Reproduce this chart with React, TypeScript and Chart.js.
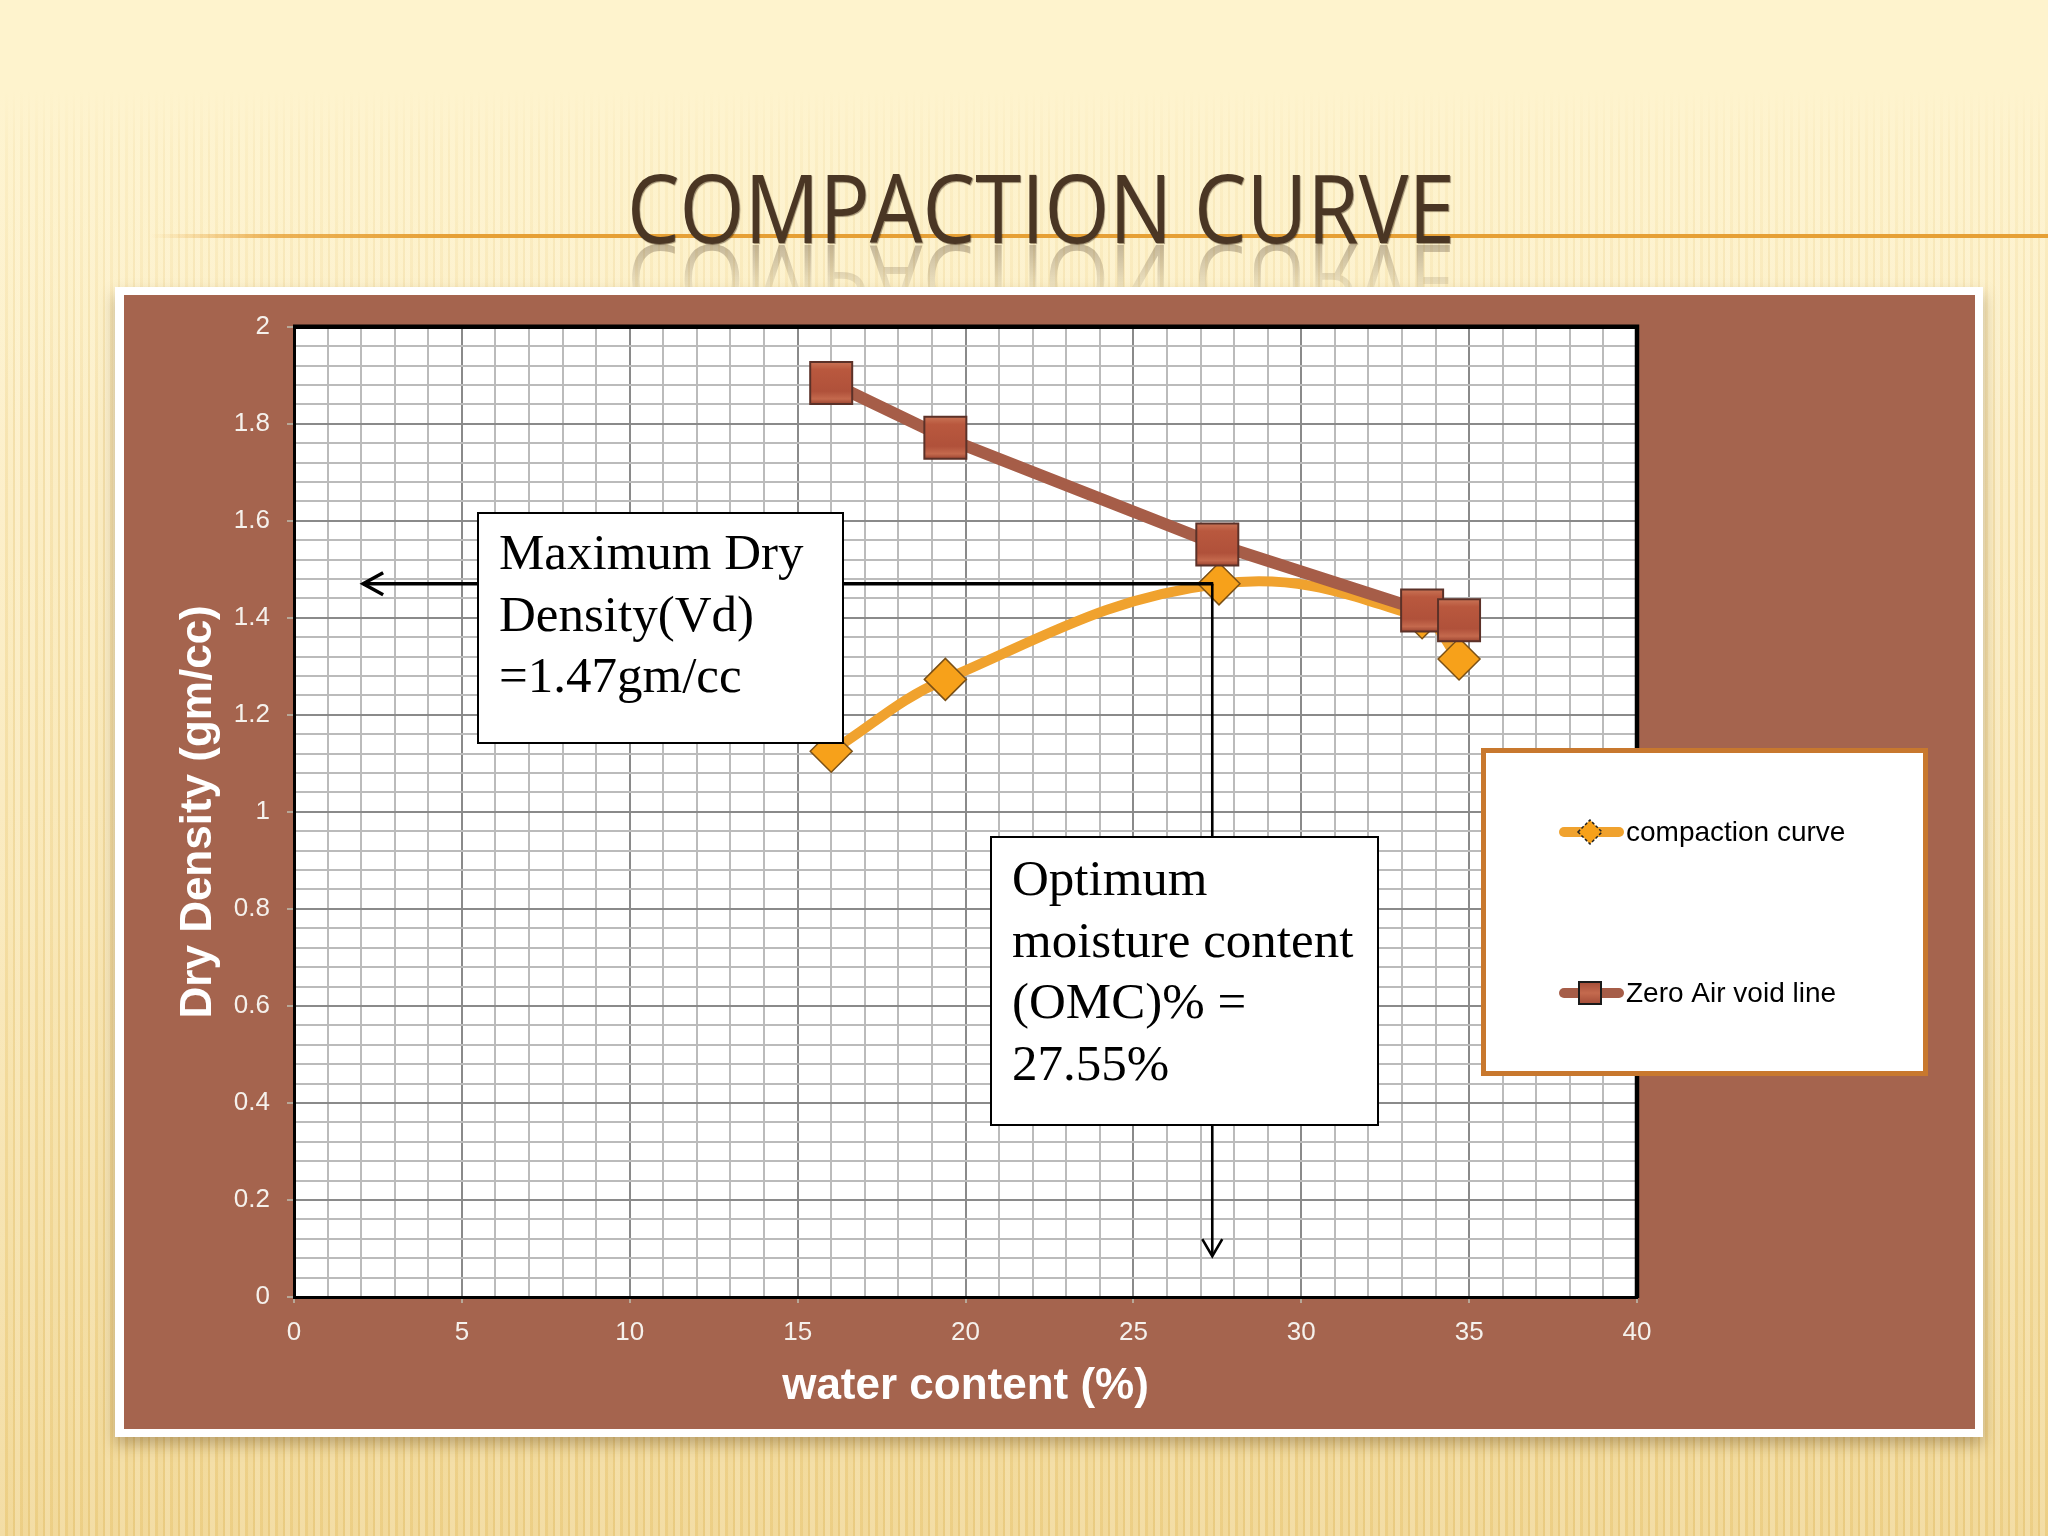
import React, { useEffect, useLayoutEffect, useRef } from 'react';
import { Chart, registerables } from 'chart.js';

Chart.register(...registerables);

// ---- data ----
const seriesLabels = ['compaction curve', 'Zero Air void line'];
const compactionWater = [16, 19.4, 27.55, 33.6, 34.7];
const compactionDensity = [1.125, 1.273, 1.47, 1.4, 1.315];
const zavWater = [16, 19.4, 27.5, 33.6, 34.7];
const zavDensity = [1.884, 1.771, 1.551, 1.415, 1.395];

const xMin = 0;
const xMax = 40;
const xMinorStep = 1;
const xMajorStep = 5;
const yMin = 0;
const yMax = 2;
const yMinorStep = 0.04;
const yMajorStep = 0.2;

const mddValue = 1.47; // maximum dry density marker line
const omcLineX = 27.35; // optimum moisture content marker line
const arrowLeftX = 2;
const arrowBottomY = 0.08;

const titleText = 'COMPACTION CURVE';
const xTitle = 'water content (%)';
const yTitle = 'Dry Density (gm/cc)';
const mddLines = ['Maximum Dry', 'Density(Vd)', '=1.47gm/cc'];
const omcLines = ['Optimum', 'moisture content', '(OMC)% =', '27.55%'];

// ---- styles ----
const ORANGE_LINE = '#F0A22E';
const ORANGE_FILL = '#F7A11A';
const BROWN_LINE = '#A65D48';
const PANEL = '#A5644E';

const isMultiple = (v: number, step: number) => {
  const r = v / step;
  return Math.abs(r - Math.round(r)) < 1e-6;
};

function squareFill(ctx: any) {
  const chart = ctx.chart;
  try {
    if (ctx.type !== 'data' || !chart.scales || !chart.scales.y || !ctx.parsed) return '#B5563D';
    const y = chart.scales.y.getPixelForValue(ctx.parsed.y);
    if (!isFinite(y)) return '#B5563D';
    const g = chart.ctx.createLinearGradient(0, y - 21, 0, y + 21);
    g.addColorStop(0, '#C97355');
    g.addColorStop(0.18, '#B9583E');
    g.addColorStop(0.7, '#B0513A');
    g.addColorStop(0.88, '#C4694D');
    g.addColorStop(1, '#9C4531');
    return g;
  } catch (e) {
    return '#B5563D';
  }
}

const plotBg = {
  id: 'plotBg',
  beforeDraw(chart: any) {
    const { ctx, chartArea: a } = chart;
    ctx.save();
    ctx.fillStyle = '#FFFFFF';
    ctx.fillRect(a.left, a.top, a.right - a.left, a.bottom - a.top);
    ctx.restore();
  },
};

const arrows = {
  id: 'arrows',
  afterDatasetsDraw(chart: any) {
    const { ctx } = chart;
    const xs = chart.scales.x;
    const ys = chart.scales.y;
    const px = xs.getPixelForValue(omcLineX);
    const py = ys.getPixelForValue(mddValue);
    const lx = xs.getPixelForValue(arrowLeftX);
    const by = ys.getPixelForValue(arrowBottomY);
    ctx.save();
    ctx.strokeStyle = '#000';
    ctx.lineCap = 'butt';
    ctx.lineJoin = 'miter';
    ctx.lineWidth = 3.5;
    ctx.beginPath();
    ctx.moveTo(px + 1, py);
    ctx.lineTo(lx + 2, py);
    ctx.stroke();
    ctx.beginPath();
    ctx.moveTo(lx + 22, py - 11);
    ctx.lineTo(lx + 2, py);
    ctx.lineTo(lx + 22, py + 11);
    ctx.stroke();
    ctx.lineWidth = 2.6;
    ctx.beginPath();
    ctx.moveTo(px, py);
    ctx.lineTo(px, by - 2);
    ctx.stroke();
    ctx.beginPath();
    ctx.moveTo(px - 10, by - 19);
    ctx.lineTo(px, by - 2);
    ctx.lineTo(px + 10, by - 19);
    ctx.stroke();
    ctx.restore();
  },
};

const frameAndLegend = {
  id: 'frameAndLegend',
  afterDraw(chart: any) {
    const { ctx, chartArea: a } = chart;
    ctx.save();
    // plot border top/right
    ctx.strokeStyle = '#000';
    ctx.lineWidth = 4.5;
    ctx.beginPath();
    ctx.moveTo(a.left - 1, a.top);
    ctx.lineTo(a.right, a.top);
    ctx.lineTo(a.right, a.bottom + 1);
    ctx.stroke();

    // legend box
    const bx = 1357, byy = 453, bw = 447, bh = 328;
    ctx.fillStyle = '#FFFFFF';
    ctx.fillRect(bx, byy, bw, bh);
    ctx.strokeStyle = '#C8782E';
    ctx.lineWidth = 5;
    ctx.strokeRect(bx + 2.5, byy + 2.5, bw - 5, bh - 5);

    const rows = [537, 698];
    chart.data.datasets.forEach((ds: any, i: number) => {
      const y = rows[i];
      ctx.strokeStyle = ds.borderColor;
      ctx.lineWidth = 10;
      ctx.lineCap = 'round';
      ctx.beginPath();
      ctx.moveTo(1440, y);
      ctx.lineTo(1495, y);
      ctx.stroke();
      ctx.lineCap = 'butt';
      const cx = 1466;
      if (ds.pointStyle === 'rectRot') {
        ctx.beginPath();
        ctx.moveTo(cx - 12, y);
        ctx.lineTo(cx, y - 12);
        ctx.lineTo(cx + 12, y);
        ctx.lineTo(cx, y + 12);
        ctx.closePath();
        ctx.fillStyle = ORANGE_FILL;
        ctx.fill();
        ctx.strokeStyle = '#222';
        ctx.lineWidth = 1.5;
        ctx.setLineDash([3, 2]);
        ctx.stroke();
        ctx.setLineDash([]);
      } else {
        const g = ctx.createLinearGradient(0, y - 11, 0, y + 11);
        g.addColorStop(0, '#A44D38');
        g.addColorStop(0.5, '#C46A4E');
        g.addColorStop(1, '#A44D38');
        ctx.fillStyle = g;
        ctx.fillRect(cx - 11, y - 11, 22, 22);
        ctx.strokeStyle = '#1A1A1A';
        ctx.lineWidth = 2;
        ctx.strokeRect(cx - 11, y - 11, 22, 22);
      }
      ctx.fillStyle = '#000';
      ctx.font = '28px "Liberation Sans", Arial, sans-serif';
      ctx.textBaseline = 'middle';
      ctx.textAlign = 'left';
      ctx.fillText(ds.label, 1502, y + 1);
    });
    ctx.restore();
  },
};

function CompactionChart() {
  const ref = useRef<HTMLCanvasElement | null>(null);
  useEffect(() => {
    if (!ref.current) return;
    const chart = new Chart(ref.current, {
      type: 'scatter',
      data: {
        datasets: [
          {
            label: seriesLabels[0],
            data: compactionWater.map((x, i) => ({ x, y: compactionDensity[i] })),
            showLine: true,
            borderColor: ORANGE_LINE,
            borderWidth: 10,
            tension: 0.4,
            pointStyle: 'rectRot',
            pointRadius: 21,
            pointHoverRadius: 21,
            pointBackgroundColor: ORANGE_FILL,
            pointBorderColor: '#7A5016',
            pointBorderWidth: 1.5,
            order: 2,
          } as any,
          {
            label: seriesLabels[1],
            data: zavWater.map((x, i) => ({ x, y: zavDensity[i] })),
            showLine: true,
            borderColor: BROWN_LINE,
            borderWidth: 12,
            tension: 0,
            pointStyle: 'rect',
            pointRadius: 29.7,
            pointHoverRadius: 29.7,
            pointBackgroundColor: squareFill,
            pointBorderColor: '#5B3128',
            pointBorderWidth: 2,
            order: 1,
          } as any,
        ],
      },
      options: {
        animation: false,
        responsive: false,
        maintainAspectRatio: false,
        devicePixelRatio: 1,
        events: [],
        layout: { padding: { top: 25, right: 338, bottom: 0, left: 0 } },
        plugins: {
          legend: { display: false },
          tooltip: { enabled: false },
          title: { display: false },
        },
        scales: {
          x: {
            type: 'linear',
            min: xMin,
            max: xMax,
            afterFit: (s: any) => {
              s.height = 132;
            },
            ticks: {
              stepSize: xMinorStep,
              autoSkip: false,
              maxRotation: 0,
              padding: 14,
              color: '#F5F1EC',
              font: { family: '"Liberation Sans", Arial, sans-serif', size: 26 },
              callback: (v: any) => (isMultiple(Number(v), xMajorStep) ? String(Math.round(Number(v))) : ''),
            },
            grid: {
              color: (c: any) => (c.tick && isMultiple(c.tick.value, xMajorStep) ? '#8A8A8A' : '#BBBBBB'),
              lineWidth: 2,
              tickColor: (c: any) => (c.tick && isMultiple(c.tick.value, xMajorStep) ? '#B8A898' : 'rgba(0,0,0,0)'),
              tickLength: 6,
            },
            border: { display: true, color: '#000', width: 3 },
            title: {
              display: true,
              text: xTitle,
              color: '#FFFFFF',
              font: { family: '"Liberation Sans", Arial, sans-serif', size: 44, weight: 'bold', lineHeight: 1.2 },
              padding: { top: 0, bottom: 16 },
            },
          },
          y: {
            type: 'linear',
            min: yMin,
            max: yMax,
            afterFit: (s: any) => {
              s.width = 170;
            },
            ticks: {
              stepSize: yMinorStep,
              autoSkip: false,
              padding: 17,
              color: '#F5F1EC',
              font: { family: '"Liberation Sans", Arial, sans-serif', size: 26, lineHeight: 0.5 },
              callback: (v: any) => (isMultiple(Number(v), yMajorStep) ? String(+Number(v).toFixed(1)) : ''),
            },
            grid: {
              color: (c: any) => (c.tick && isMultiple(c.tick.value, yMajorStep) ? '#8A8A8A' : '#BBBBBB'),
              lineWidth: 2,
              tickColor: (c: any) => (c.tick && isMultiple(c.tick.value, yMajorStep) ? '#B8A898' : 'rgba(0,0,0,0)'),
              tickLength: 7,
            },
            border: { display: true, color: '#000', width: 3 },
            title: {
              display: true,
              text: yTitle,
              color: '#FFFFFF',
              font: { family: '"Liberation Sans", Arial, sans-serif', size: 44, weight: 'bold', lineHeight: 1.2 },
              padding: { top: 48, bottom: 0 },
            },
          },
        },
      } as any,
      plugins: [plotBg, arrows, frameAndLegend],
    });
    return () => chart.destroy();
  }, []);
  return (
    <canvas
      ref={ref}
      width={1851}
      height={1134}
      style={{ position: 'absolute', left: 124, top: 295, width: 1851, height: 1134 }}
    />
  );
}

function Title() {
  const mainRef = useRef<HTMLSpanElement | null>(null);
  const reflRef = useRef<HTMLSpanElement | null>(null);
  useLayoutEffect(() => {
    const el = mainRef.current;
    if (!el) return;
    const w = el.getBoundingClientRect().width;
    if (!w) return;
    const s = 828 / w;
    el.style.transform = `scaleX(${s})`;
    if (reflRef.current) reflRef.current.style.transform = `scale(${s}, -1)`;
  }, []);
  const common: React.CSSProperties = {
    position: 'absolute',
    left: 627,
    top: 158,
    fontFamily: '"Open Sans", "Noto Sans", sans-serif',
    fontWeight: 400,
    fontSize: 96,
    lineHeight: '95px',
    whiteSpace: 'nowrap',
    color: '#4A3624',
    transformOrigin: '0 86px',
    letterSpacing: 0,
  };
  return (
    <>
      <span
        ref={reflRef}
        style={{
          ...common,
          opacity: 0.3,
          WebkitMaskImage: 'linear-gradient(to bottom, rgba(0,0,0,0) 30%, rgba(0,0,0,1) 88%)',
          maskImage: 'linear-gradient(to bottom, rgba(0,0,0,0) 30%, rgba(0,0,0,1) 88%)',
        }}
      >
        {titleText}
      </span>
      <span ref={mainRef} style={{ ...common, textShadow: '1px 1px 1px rgba(40,20,0,0.45)' }}>
        {titleText}
      </span>
    </>
  );
}

function NoteBox(props: { left: number; top: number; width: number; height: number; padTop: number; lines: string[] }) {
  return (
    <div
      style={{
        position: 'absolute',
        left: props.left,
        top: props.top,
        width: props.width,
        height: props.height,
        boxSizing: 'border-box',
        border: '2px solid #000',
        background: '#FFFFFF',
        paddingLeft: 20,
        paddingTop: props.padTop,
        fontFamily: '"Liberation Serif", "Times New Roman", serif',
        fontSize: 51,
        lineHeight: '61.5px',
        color: '#000',
        whiteSpace: 'nowrap',
      }}
    >
      {props.lines.map((l, i) => (
        <div key={i}>{l}</div>
      ))}
    </div>
  );
}

export default function App() {
  return (
    <div
      style={{
        position: 'fixed',
        left: 0,
        top: 0,
        width: 2048,
        height: 1536,
        overflow: 'hidden',
        background:
          'linear-gradient(to bottom, rgba(254,243,205,1) 0px, rgba(254,243,205,1) 90px, rgba(254,243,205,0.55) 150px, rgba(254,243,205,0) 420px),' +
          'repeating-linear-gradient(90deg, rgba(255,255,255,0.22) 0px, rgba(255,255,255,0.22) 5px, rgba(205,160,70,0.10) 5px, rgba(205,160,70,0.10) 8px, rgba(255,255,255,0.12) 8px, rgba(255,255,255,0.12) 13px, rgba(195,150,60,0.14) 13px, rgba(195,150,60,0.14) 15px),' +
          'linear-gradient(to bottom, #FEF3CB 0%, #FCEDC0 25%, #F8E4AC 60%, #F0D48C 100%)',
      }}
    >
      <div
        style={{
          position: 'absolute',
          left: 150,
          top: 234,
          width: 1898,
          height: 4,
          background: 'linear-gradient(to right, rgba(232,163,58,0) 0px, rgba(232,163,58,0.8) 120px, #E6A035 300px, #E6A035 100%)',
        }}
      />
      <Title />
      <div
        style={{
          position: 'absolute',
          left: 115,
          top: 287,
          width: 1868,
          height: 1150,
          background: '#FFFFFF',
          boxShadow: '0 8px 14px rgba(90,60,20,0.35)',
        }}
      />
      <div style={{ position: 'absolute', left: 124, top: 295, width: 1851, height: 1134, background: PANEL }} />
      <CompactionChart />
      <NoteBox left={477} top={512} width={367} height={232} padTop={8} lines={mddLines} />
      <NoteBox left={990} top={836} width={389} height={290} padTop={10} lines={omcLines} />
    </div>
  );
}
